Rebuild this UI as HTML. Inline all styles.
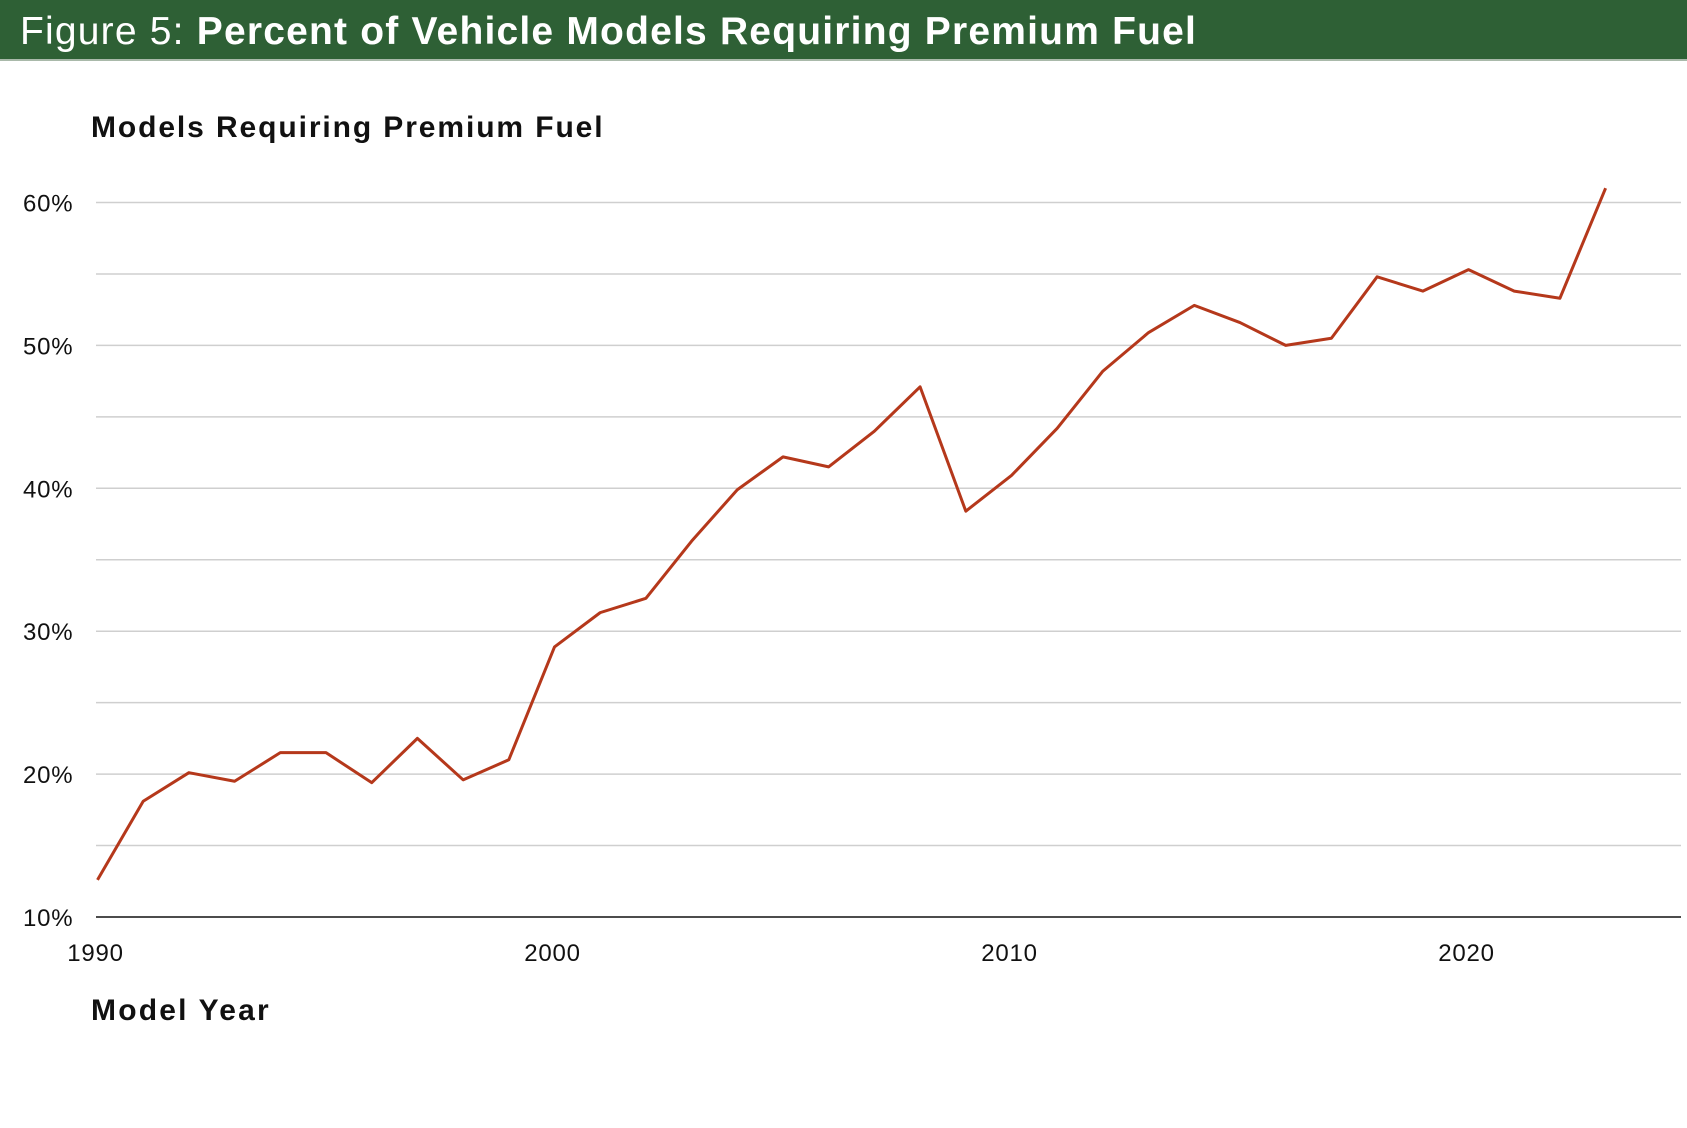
<!DOCTYPE html>
<html><head><meta charset="utf-8"><style>
body{margin:0;width:1687px;height:1128px;background:#fff;font-family:"Liberation Sans",sans-serif;overflow:hidden}
#hdr{position:absolute;left:0;top:0;width:1687px;height:61px;background:#2e6035;border-bottom:2px solid #a9b9aa;color:#fff;font-size:39px;line-height:64px;padding-left:20px;box-sizing:border-box;letter-spacing:1.2px;white-space:nowrap}
</style></head><body>
<div id="hdr">Figure 5: <b>Percent of Vehicle Models Requiring Premium Fuel</b></div>
<svg id="chart" width="1687" height="1128" style="position:absolute;left:0;top:0">
<text x="91" y="137" font-size="30" font-weight="bold" fill="#111" letter-spacing="1.9">Models Requiring Premium Fuel</text>
<text x="91" y="1020" font-size="30" font-weight="bold" fill="#111" letter-spacing="2.2">Model Year</text>
<g id="grid"></g><g id="yt"></g><g id="xt"></g><g id="ln"></g>
</svg>
<script>
const years=[1990,1991,1992,1993,1994,1995,1996,1997,1998,1999,2000,2001,2002,2003,2004,2005,2006,2007,2008,2009,2010,2011,2012,2013,2014,2015,2016,2017,2018,2019,2020,2021,2022,2023];
const values=[12.6,18.1,20.1,19.5,21.5,21.5,19.4,22.5,19.6,21.0,28.9,31.3,32.3,36.3,39.9,42.2,41.5,44.0,47.1,38.4,40.9,44.2,48.2,50.9,52.8,51.6,50.0,50.5,54.8,53.8,55.3,53.8,53.3,61.0];
const yTicks=[10,20,30,40,50,60];
const gridVals=[15,20,25,30,35,40,45,50,55,60];
const xTicks=[1990,2000,2010,2020];
const NS='http://www.w3.org/2000/svg';
function X(yr){return 97.5+(yr-1990)*45.7;}
function Y(v){return 917-(v-10)*14.29;}
function mk(t,a,p){const e=document.createElementNS(NS,t);for(const k in a)e.setAttribute(k,a[k]);p.appendChild(e);return e;}
const g=document.getElementById('grid');
gridVals.forEach(v=>{const l=mk('line',{x1:96,x2:1681,y1:Y(v),y2:Y(v),stroke:'#cfcfcf','stroke-width':1.5},g);

});
const ax=mk('line',{x1:96,x2:1681,y1:Y(10),y2:Y(10),stroke:'#111','stroke-width':1.5},g);


const yt=document.getElementById('yt');
yTicks.forEach(v=>{const t=mk('text',{x:23,y:Y(v)+9,'font-size':24,fill:'#111','letter-spacing':0.8},yt);t.textContent=v+'%';

});
const xt=document.getElementById('xt');
xTicks.forEach(v=>{const t=mk('text',{x:X(v)-2,y:961,'font-size':24,fill:'#111','text-anchor':'middle','letter-spacing':0.8},xt);t.textContent=v;

});
const p=mk('polyline',{points:years.map((yr,i)=>X(yr)+','+Y(values[i])).join(' '),fill:'none',stroke:'#b5381b','stroke-width':3,'stroke-linejoin':'round'},document.getElementById('ln'));


</script>
</body></html>
